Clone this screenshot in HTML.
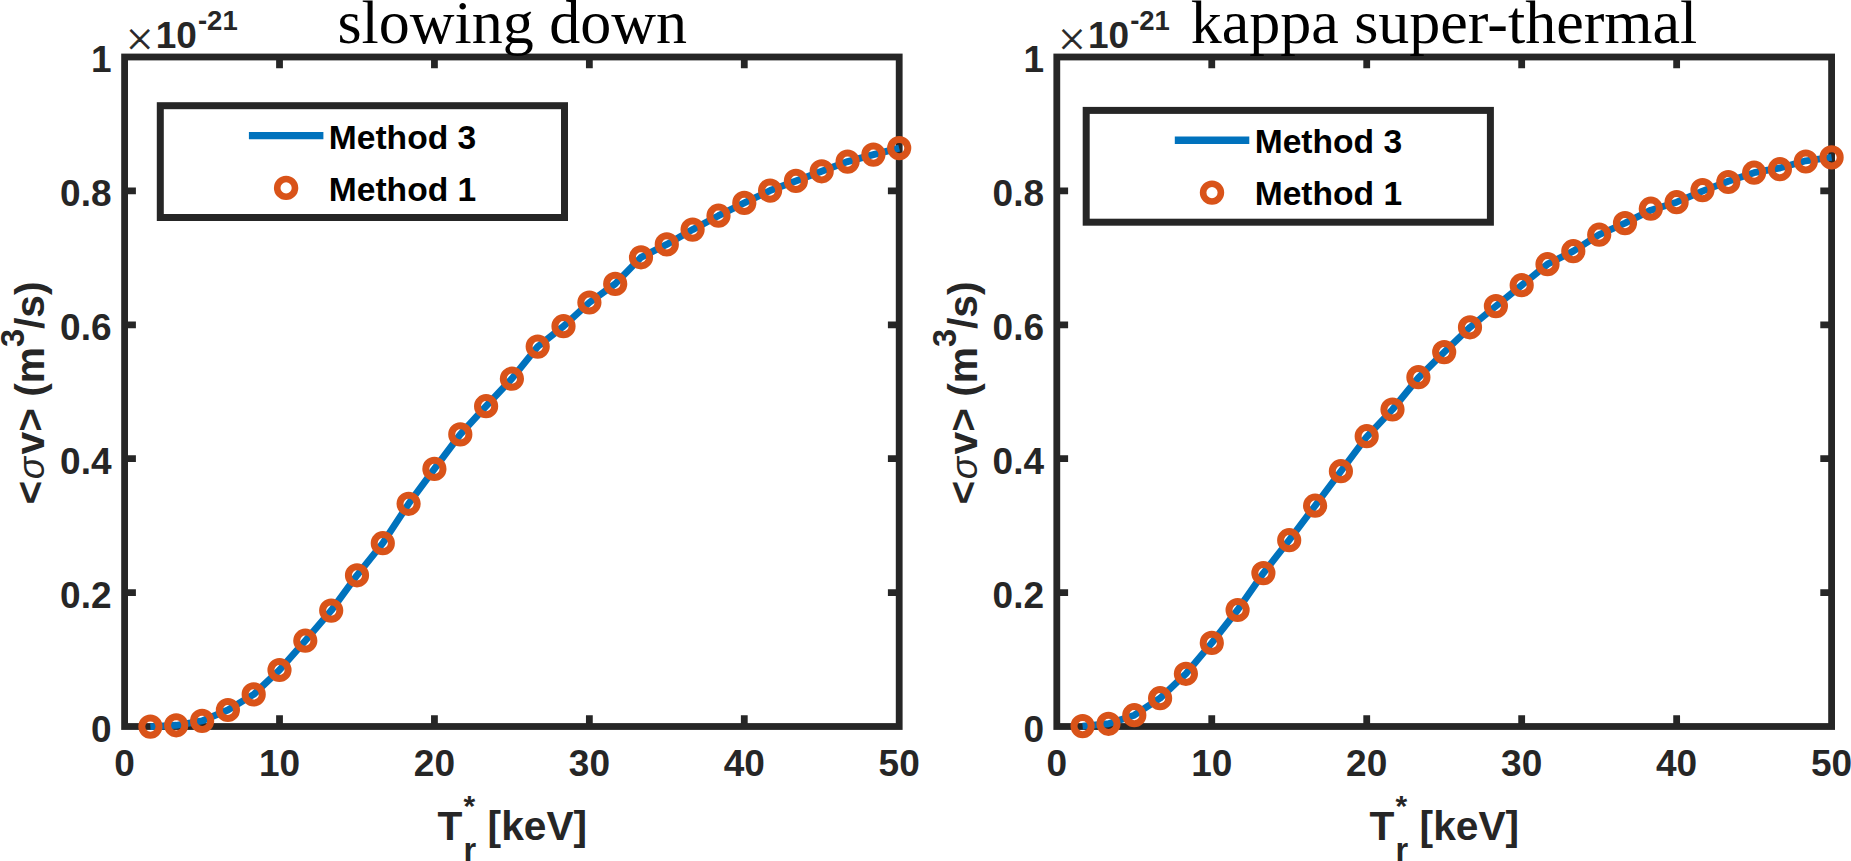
<!DOCTYPE html>
<html lang="en">
<head>
<meta charset="utf-8">
<title>Reactivity comparison: slowing down vs kappa super-thermal</title>
<style>
html,body{margin:0;padding:0;background:#fff;overflow:hidden}
svg{display:block}
.tk{font-family:'Liberation Sans', sans-serif;font-weight:bold;font-size:37px;fill:#262626}
.lab{font-family:'Liberation Sans', sans-serif;font-weight:bold;font-size:40.7px;fill:#262626}
.lg{font-family:'Liberation Sans', sans-serif;font-weight:bold;font-size:33.6px;fill:#000}
</style>
</head>
<body>
<svg width="1851" height="861" viewBox="0 0 1851 861">
<rect width="1851" height="861" fill="#fff"/>
<path d="M279.52 726.5 V715.2 M279.52 57.0 V68.3 M434.44 726.5 V715.2 M434.44 57.0 V68.3 M589.36 726.5 V715.2 M589.36 57.0 V68.3 M744.28 726.5 V715.2 M744.28 57.0 V68.3 M124.6 592.60 H135.9 M899.2 592.60 H887.9 M124.6 458.70 H135.9 M899.2 458.70 H887.9 M124.6 324.80 H135.9 M899.2 324.80 H887.9 M124.6 190.90 H135.9 M899.2 190.90 H887.9" stroke="#262626" stroke-width="6.8" fill="none"/>
<rect x="124.6" y="57.0" width="774.6" height="669.5" fill="none" stroke="#262626" stroke-width="6.8"/>
<text x="512.2" y="43" font-family="'Liberation Serif', serif" font-size="62" text-anchor="middle" fill="#000">slowing down</text>
<path d="M150.4 726.6 L176.2 725.3 L202.1 720.9 L227.9 710.0 L253.7 694.4 L279.5 670.0 L305.3 640.7 L331.2 610.6 L357.0 575.3 L382.8 543.2 L408.6 503.8 L434.4 468.9 L460.3 434.4 L486.1 406.2 L511.9 378.7 L537.7 346.6 L563.5 326.2 L589.4 302.5 L615.2 283.9 L641.0 257.3 L666.8 244.4 L692.6 229.6 L718.5 215.7 L744.3 202.9 L770.1 190.6 L795.9 180.9 L821.7 171.3 L847.6 161.6 L873.4 154.6 L899.2 148.1" fill="none" stroke="#0072BD" stroke-width="6.9" stroke-linejoin="round"/>
<circle cx="150.4" cy="726.6" r="8.6" fill="none" stroke="#D95319" stroke-width="7.0"/>
<circle cx="176.2" cy="725.3" r="8.6" fill="none" stroke="#D95319" stroke-width="7.0"/>
<circle cx="202.1" cy="720.9" r="8.6" fill="none" stroke="#D95319" stroke-width="7.0"/>
<circle cx="227.9" cy="710.0" r="8.6" fill="none" stroke="#D95319" stroke-width="7.0"/>
<circle cx="253.7" cy="694.4" r="8.6" fill="none" stroke="#D95319" stroke-width="7.0"/>
<circle cx="279.5" cy="670.0" r="8.6" fill="none" stroke="#D95319" stroke-width="7.0"/>
<circle cx="305.3" cy="640.7" r="8.6" fill="none" stroke="#D95319" stroke-width="7.0"/>
<circle cx="331.2" cy="610.6" r="8.6" fill="none" stroke="#D95319" stroke-width="7.0"/>
<circle cx="357.0" cy="575.3" r="8.6" fill="none" stroke="#D95319" stroke-width="7.0"/>
<circle cx="382.8" cy="543.2" r="8.6" fill="none" stroke="#D95319" stroke-width="7.0"/>
<circle cx="408.6" cy="503.8" r="8.6" fill="none" stroke="#D95319" stroke-width="7.0"/>
<circle cx="434.4" cy="468.9" r="8.6" fill="none" stroke="#D95319" stroke-width="7.0"/>
<circle cx="460.3" cy="434.4" r="8.6" fill="none" stroke="#D95319" stroke-width="7.0"/>
<circle cx="486.1" cy="406.2" r="8.6" fill="none" stroke="#D95319" stroke-width="7.0"/>
<circle cx="511.9" cy="378.7" r="8.6" fill="none" stroke="#D95319" stroke-width="7.0"/>
<circle cx="537.7" cy="346.6" r="8.6" fill="none" stroke="#D95319" stroke-width="7.0"/>
<circle cx="563.5" cy="326.2" r="8.6" fill="none" stroke="#D95319" stroke-width="7.0"/>
<circle cx="589.4" cy="302.5" r="8.6" fill="none" stroke="#D95319" stroke-width="7.0"/>
<circle cx="615.2" cy="283.9" r="8.6" fill="none" stroke="#D95319" stroke-width="7.0"/>
<circle cx="641.0" cy="257.3" r="8.6" fill="none" stroke="#D95319" stroke-width="7.0"/>
<circle cx="666.8" cy="244.4" r="8.6" fill="none" stroke="#D95319" stroke-width="7.0"/>
<circle cx="692.6" cy="229.6" r="8.6" fill="none" stroke="#D95319" stroke-width="7.0"/>
<circle cx="718.5" cy="215.7" r="8.6" fill="none" stroke="#D95319" stroke-width="7.0"/>
<circle cx="744.3" cy="202.9" r="8.6" fill="none" stroke="#D95319" stroke-width="7.0"/>
<circle cx="770.1" cy="190.6" r="8.6" fill="none" stroke="#D95319" stroke-width="7.0"/>
<circle cx="795.9" cy="180.9" r="8.6" fill="none" stroke="#D95319" stroke-width="7.0"/>
<circle cx="821.7" cy="171.3" r="8.6" fill="none" stroke="#D95319" stroke-width="7.0"/>
<circle cx="847.6" cy="161.6" r="8.6" fill="none" stroke="#D95319" stroke-width="7.0"/>
<circle cx="873.4" cy="154.6" r="8.6" fill="none" stroke="#D95319" stroke-width="7.0"/>
<circle cx="899.2" cy="148.1" r="8.6" fill="none" stroke="#D95319" stroke-width="7.0"/>
<text x="124.6" y="776.2" text-anchor="middle" class="tk">0</text>
<text x="279.5" y="776.2" text-anchor="middle" class="tk">10</text>
<text x="434.4" y="776.2" text-anchor="middle" class="tk">20</text>
<text x="589.4" y="776.2" text-anchor="middle" class="tk">30</text>
<text x="744.3" y="776.2" text-anchor="middle" class="tk">40</text>
<text x="899.2" y="776.2" text-anchor="middle" class="tk">50</text>
<text x="111.5" y="741.5" text-anchor="end" class="tk">0</text>
<text x="111.5" y="607.6" text-anchor="end" class="tk">0.2</text>
<text x="111.5" y="473.7" text-anchor="end" class="tk">0.4</text>
<text x="111.5" y="339.8" text-anchor="end" class="tk">0.6</text>
<text x="111.5" y="205.9" text-anchor="end" class="tk">0.8</text>
<text x="111.5" y="72.0" text-anchor="end" class="tk">1</text>
<text x="124.1" y="50.8" font-family="'DejaVu Sans', 'Liberation Sans', sans-serif" font-weight="200" font-size="37.5" fill="#262626" stroke="#262626" stroke-width="0.7">×</text>
<text x="155.8" y="47.5" class="tk">10<tspan dy="-17.5" dx="1" font-size="27.5">-21</tspan></text>
<text x="437.6" y="840.4" class="lab">T<tspan dy="20.6" font-size="32.5" dx="1">r</tspan><tspan dy="-45.2" dx="-12.6" font-size="30">*</tspan><tspan dy="24.6" dx="1.1"> [keV]</tspan></text>
<text transform="translate(44.3 393.0) rotate(-90)" text-anchor="middle" class="lab">&lt;<tspan font-style="italic" font-weight="normal" font-size="37" dx="1.5">σ</tspan><tspan dx="2.4">v</tspan>&gt; (m<tspan dy="-20.5" font-size="32.5">3</tspan><tspan dy="20.5">/s)</tspan></text>
<rect x="160.3" y="105.7" width="404.2" height="111.8" fill="#fff" stroke="#262626" stroke-width="7"/>
<path d="M248.9 135.6 H323.4" stroke="#0072BD" stroke-width="7.4"/>
<circle cx="286.1" cy="187.9" r="8.9" fill="none" stroke="#D95319" stroke-width="6.6"/>
<text x="328.8" y="148.5" class="lg">Method 3</text>
<text x="328.8" y="200.7" class="lg">Method 1</text>
<path d="M1211.76 726.5 V715.2 M1211.76 57.0 V68.3 M1366.72 726.5 V715.2 M1366.72 57.0 V68.3 M1521.68 726.5 V715.2 M1521.68 57.0 V68.3 M1676.64 726.5 V715.2 M1676.64 57.0 V68.3 M1056.8 592.60 H1068.1 M1831.6 592.60 H1820.3 M1056.8 458.70 H1068.1 M1831.6 458.70 H1820.3 M1056.8 324.80 H1068.1 M1831.6 324.80 H1820.3 M1056.8 190.90 H1068.1 M1831.6 190.90 H1820.3" stroke="#262626" stroke-width="6.8" fill="none"/>
<rect x="1056.8" y="57.0" width="774.8" height="669.5" fill="none" stroke="#262626" stroke-width="6.8"/>
<text x="1444.0" y="43" font-family="'Liberation Serif', serif" font-size="62" text-anchor="middle" fill="#000">kappa super-thermal</text>
<path d="M1082.6 726.1 L1108.5 723.8 L1134.3 715.2 L1160.1 698.2 L1185.9 673.8 L1211.8 642.9 L1237.6 610.0 L1263.4 573.1 L1289.2 540.2 L1315.1 505.7 L1340.9 471.2 L1366.7 436.8 L1392.5 409.5 L1418.4 377.8 L1444.2 352.1 L1470.0 327.3 L1495.9 306.1 L1521.7 285.2 L1547.5 264.2 L1573.3 251.2 L1599.2 234.7 L1625.0 223.1 L1650.8 210.2 L1676.6 202.2 L1702.5 191.1 L1728.3 181.2 L1754.1 172.7 L1779.9 168.0 L1805.8 160.8 L1831.6 157.4" fill="none" stroke="#0072BD" stroke-width="6.9" stroke-linejoin="round"/>
<circle cx="1082.6" cy="726.1" r="8.6" fill="none" stroke="#D95319" stroke-width="7.0"/>
<circle cx="1108.5" cy="723.8" r="8.6" fill="none" stroke="#D95319" stroke-width="7.0"/>
<circle cx="1134.3" cy="715.2" r="8.6" fill="none" stroke="#D95319" stroke-width="7.0"/>
<circle cx="1160.1" cy="698.2" r="8.6" fill="none" stroke="#D95319" stroke-width="7.0"/>
<circle cx="1185.9" cy="673.8" r="8.6" fill="none" stroke="#D95319" stroke-width="7.0"/>
<circle cx="1211.8" cy="642.9" r="8.6" fill="none" stroke="#D95319" stroke-width="7.0"/>
<circle cx="1237.6" cy="610.0" r="8.6" fill="none" stroke="#D95319" stroke-width="7.0"/>
<circle cx="1263.4" cy="573.1" r="8.6" fill="none" stroke="#D95319" stroke-width="7.0"/>
<circle cx="1289.2" cy="540.2" r="8.6" fill="none" stroke="#D95319" stroke-width="7.0"/>
<circle cx="1315.1" cy="505.7" r="8.6" fill="none" stroke="#D95319" stroke-width="7.0"/>
<circle cx="1340.9" cy="471.2" r="8.6" fill="none" stroke="#D95319" stroke-width="7.0"/>
<circle cx="1366.7" cy="436.2" r="8.6" fill="none" stroke="#D95319" stroke-width="7.0"/>
<circle cx="1392.5" cy="409.5" r="8.6" fill="none" stroke="#D95319" stroke-width="7.0"/>
<circle cx="1418.4" cy="377.2" r="8.6" fill="none" stroke="#D95319" stroke-width="7.0"/>
<circle cx="1444.2" cy="352.1" r="8.6" fill="none" stroke="#D95319" stroke-width="7.0"/>
<circle cx="1470.0" cy="327.3" r="8.6" fill="none" stroke="#D95319" stroke-width="7.0"/>
<circle cx="1495.9" cy="306.1" r="8.6" fill="none" stroke="#D95319" stroke-width="7.0"/>
<circle cx="1521.7" cy="285.2" r="8.6" fill="none" stroke="#D95319" stroke-width="7.0"/>
<circle cx="1547.5" cy="264.2" r="8.6" fill="none" stroke="#D95319" stroke-width="7.0"/>
<circle cx="1573.3" cy="251.2" r="8.6" fill="none" stroke="#D95319" stroke-width="7.0"/>
<circle cx="1599.2" cy="234.7" r="8.6" fill="none" stroke="#D95319" stroke-width="7.0"/>
<circle cx="1625.0" cy="223.1" r="8.6" fill="none" stroke="#D95319" stroke-width="7.0"/>
<circle cx="1650.8" cy="208.7" r="8.6" fill="none" stroke="#D95319" stroke-width="7.0"/>
<circle cx="1676.6" cy="202.2" r="8.6" fill="none" stroke="#D95319" stroke-width="7.0"/>
<circle cx="1702.5" cy="190.1" r="8.6" fill="none" stroke="#D95319" stroke-width="7.0"/>
<circle cx="1728.3" cy="182.0" r="8.6" fill="none" stroke="#D95319" stroke-width="7.0"/>
<circle cx="1754.1" cy="172.7" r="8.6" fill="none" stroke="#D95319" stroke-width="7.0"/>
<circle cx="1779.9" cy="169.2" r="8.6" fill="none" stroke="#D95319" stroke-width="7.0"/>
<circle cx="1805.8" cy="161.5" r="8.6" fill="none" stroke="#D95319" stroke-width="7.0"/>
<circle cx="1831.6" cy="157.4" r="8.6" fill="none" stroke="#D95319" stroke-width="7.0"/>
<text x="1056.8" y="776.2" text-anchor="middle" class="tk">0</text>
<text x="1211.8" y="776.2" text-anchor="middle" class="tk">10</text>
<text x="1366.7" y="776.2" text-anchor="middle" class="tk">20</text>
<text x="1521.7" y="776.2" text-anchor="middle" class="tk">30</text>
<text x="1676.6" y="776.2" text-anchor="middle" class="tk">40</text>
<text x="1831.6" y="776.2" text-anchor="middle" class="tk">50</text>
<text x="1044.0" y="741.5" text-anchor="end" class="tk">0</text>
<text x="1044.0" y="607.6" text-anchor="end" class="tk">0.2</text>
<text x="1044.0" y="473.7" text-anchor="end" class="tk">0.4</text>
<text x="1044.0" y="339.8" text-anchor="end" class="tk">0.6</text>
<text x="1044.0" y="205.9" text-anchor="end" class="tk">0.8</text>
<text x="1044.0" y="72.0" text-anchor="end" class="tk">1</text>
<text x="1056.3" y="50.8" font-family="'DejaVu Sans', 'Liberation Sans', sans-serif" font-weight="200" font-size="37.5" fill="#262626" stroke="#262626" stroke-width="0.7">×</text>
<text x="1088.0" y="47.5" class="tk">10<tspan dy="-17.5" dx="1" font-size="27.5">-21</tspan></text>
<text x="1369.6" y="840.4" class="lab">T<tspan dy="20.6" font-size="32.5" dx="1">r</tspan><tspan dy="-45.2" dx="-12.6" font-size="30">*</tspan><tspan dy="24.6" dx="1.1"> [keV]</tspan></text>
<text transform="translate(976.5 393.0) rotate(-90)" text-anchor="middle" class="lab">&lt;<tspan font-style="italic" font-weight="normal" font-size="37" dx="1.5">σ</tspan><tspan dx="2.4">v</tspan>&gt; (m<tspan dy="-20.5" font-size="32.5">3</tspan><tspan dy="20.5">/s)</tspan></text>
<rect x="1086.2" y="110.4" width="404.20000000000005" height="111.79999999999998" fill="#fff" stroke="#262626" stroke-width="7"/>
<path d="M1174.8 140.3 H1249.3" stroke="#0072BD" stroke-width="7.4"/>
<circle cx="1212.0" cy="192.60000000000002" r="8.9" fill="none" stroke="#D95319" stroke-width="6.6"/>
<text x="1254.7" y="153.2" class="lg">Method 3</text>
<text x="1254.7" y="205.4" class="lg">Method 1</text>
</svg>
</body>
</html>
